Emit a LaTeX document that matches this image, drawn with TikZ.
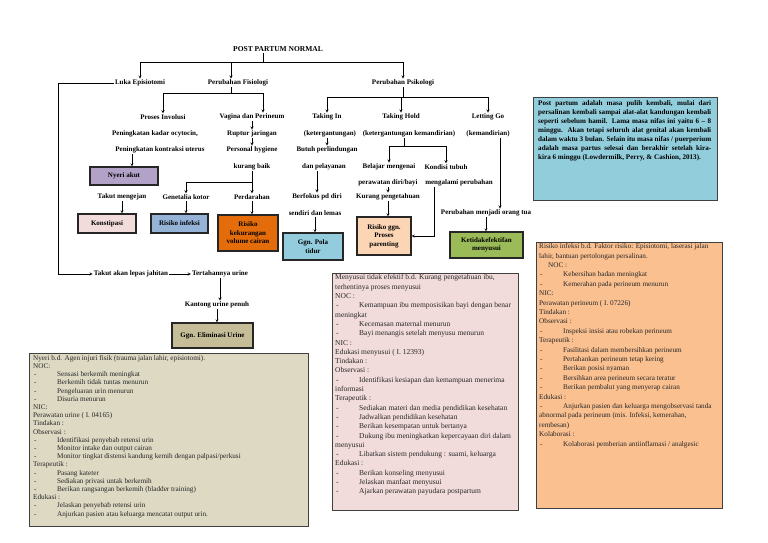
\documentclass[tikz,border=0pt]{standalone}
\usepackage{fontspec}
\setmainfont{Liberation Serif}
\definecolor{purplefill}{HTML}{B3A2C7}
\definecolor{pinkfill}{HTML}{F2DCDB}
\definecolor{bluefill}{HTML}{95B3D7}
\definecolor{orangefill}{HTML}{E46C0A}
\definecolor{cyanfill}{HTML}{93CDDD}
\definecolor{peachfill}{HTML}{FCD5B5}
\definecolor{greenfill}{HTML}{9BBB59}
\definecolor{tanfill}{HTML}{C4BD97}
\definecolor{infofill}{HTML}{92CDDC}
\definecolor{nyerifill}{HTML}{DDD9C3}
\definecolor{peachnote}{HTML}{FAC090}
\newcommand{\dashitem}[1]{\makebox[24pt][l]{\hspace*{1pt}-}#1}
\begin{document}
\begin{tikzpicture}[>=stealth, x=1pt, y=-1pt,
    lbl/.style={inner sep=1pt, font=\fontsize{7}{8}\selectfont\bfseries},
    diagbox/.style={draw=black!85, line width=1.1pt, align=center, inner sep=1pt, font=\fontsize{7}{8.5}\selectfont\bfseries},
    notebox/.style={draw=black!75, line width=1pt, anchor=north west},
    notetext/.style={anchor=north west, align=left, inner sep=0pt, text=black!85}]

    \useasboundingbox (0,0) rectangle (768,543);

        % Define the title and the three main branches
        \node[lbl, font=\fontsize{7.5}{9}\selectfont\bfseries] (post) at (278,49) {POST PARTUM NORMAL};
        \node[lbl] (luka) at (140,83) {Luka Episiotomi};
        \node[lbl] (fisio) at (238,83) {Perubahan Fisiologi};
        \node[lbl] (psiko) at (403,83) {Perubahan Psikologi};

        % Define nodes below Perubahan Fisiologi (left)
        \node[lbl] (invol) at (163,117) {Proses Involusi};
        \node[lbl] (ocy) at (155,134) {Peningkatan kadar ocytocin,};
        \node[lbl] (kontraksi) at (160,150) {Peningkatan kontraksi uterus};
        \node[diagbox, fill=purplefill, minimum width=68pt, minimum height=18pt] (nyeri) at (124,176) {Nyeri akut};
        \node[lbl] (takutm) at (122,197) {Takut mengejan};
        \node[diagbox, fill=pinkfill, minimum width=58pt, minimum height=19pt] (konst) at (107,223.5) {Konstipasi};
        \node[lbl] (genetalia) at (186,197) {Genetalia kotor};
        \node[diagbox, fill=bluefill, minimum width=57pt, minimum height=19pt] (infeksi) at (179.5,223.5) {Risiko infeksi};

        \node[lbl] (vagina) at (252,117) {Vagina dan Perineum};
        \node[lbl] (ruptur) at (252,134) {Ruptur jaringan};
        \node[lbl] (hygiene) at (252,150) {Personal hygiene};
        \node[lbl] (kurangbaik) at (252,167) {kurang baik};
        \node[lbl] (perdarahan) at (252,197) {Perdarahan};
        \node[diagbox, fill=orangefill, minimum width=60pt, minimum height=36pt] (cairan) at (248,233) {Risiko\\kekurangan\\volume cairan};

        % Define nodes below Perubahan Psikologi (right)
        \node[lbl] (takingin) at (327,117) {Taking In};
        \node[lbl] (keterg) at (330,134) {(ketergantungan)};
        \node[lbl] (butuh) at (327,150) {Butuh perlindungan};
        \node[lbl] (pelayanan) at (324,167) {dan pelayanan};
        \node[lbl] (berfokus) at (317,197) {Berfokus pd diri};
        \node[lbl] (sendiri) at (315,213) {sendiri dan lemas};
        \node[diagbox, fill=cyanfill, minimum width=60pt, minimum height=27pt] (pola) at (313,246.5) {Ggn. Pola\\tidur};

        \node[lbl] (takinghold) at (401,117) {Taking Hold};
        \node[lbl] (ketergkem) at (409,134) {(ketergantungan kemandirian)};
        \node[lbl] (belajar) at (389,167) {Belajar mengenai};
        \node[lbl] (perawatan) at (388,183) {perawatan diri/bayi};
        \node[lbl] (kurangpeng) at (388,197) {Kurang pengetahuan};
        \node[diagbox, fill=peachfill, minimum width=54pt, minimum height=38pt] (parenting) at (384,236) {Risiko ggn.\\Proses\\parenting};
        \node[lbl] (kondisi) at (446,167) {Kondisi tubuh};
        \node[lbl] (mengalami) at (459,183) {mengalami perubahan};

        \node[lbl] (letting) at (488,117) {Letting Go};
        \node[lbl] (kemandirian) at (488,134) {(kemandirian)};
        \node[lbl] (orangtua) at (486,213) {Perubahan menjadi orang tua};
        \node[diagbox, fill=greenfill, minimum width=73pt, minimum height=26pt] (menyusui) at (486.5,245) {Ketidakefektifan\\menyusui};

        % Define the chain from Luka Episiotomi (bottom)
        \node[lbl] (takutlepas) at (131,274) {Takut akan lepas jahitan};
        \node[lbl] (tertahan) at (220,274) {Tertahannya urine};
        \node[lbl] (kantong) at (217,305) {Kantong urine penuh};
        \node[diagbox, fill=tanfill, minimum width=81pt, minimum height=25pt] (eliminasi) at (212.5,335.5) {Ggn. Eliminasi Urine};

        % Junction points of the connectors
        \coordinate (topbar) at (263,62);
        \coordinate (fisiobar) at (231,93);
        \coordinate (hygbar) at (252,182);
        \coordinate (psikobar) at (403,97);
        \coordinate (holdbar) at (404,146);
        \coordinate (lukabend) at (58,83);

        % Draw arrows from the title to the main branches
        \draw (post.south -| topbar) -- (topbar);
        \draw[->] (topbar) -| (luka);
        \draw[->] (topbar) -| ([xshift=-7pt]fisio.north);
        \draw[->] (topbar) -| (psiko);

        % Draw arrows of Perubahan Fisiologi
        \draw ([xshift=-7pt]fisio.south) -- (fisiobar);
        \draw[->] (fisiobar) -| (invol);
        \draw[->] (fisiobar) -| ([xshift=11pt]vagina.north);
        \draw[->] ([xshift=8pt]nyeri.north |- kontraksi.south) -- ([xshift=8pt]nyeri.north);
        \draw[->] (takutm) -- (takutm |- konst.north);
        \draw[->] (vagina) -- (ruptur);
        \draw[->] (ruptur) -- (hygiene);
        \draw (kurangbaik) -- (hygbar);
        \draw[->] (hygbar) -| (genetalia);
        \draw[->] (hygbar) -- (perdarahan);
        \draw[->] (genetalia) -- (genetalia |- infeksi.north);
        \draw[->] (perdarahan) -- (perdarahan |- cairan.north);

        % Draw arrows of Perubahan Psikologi
        \draw (psiko) -- (psikobar);
        \draw[->] (psikobar) -| (takingin);
        \draw[->] (psikobar) -| (letting);
        \draw[->] (psikobar -| takinghold) -- (takinghold);
        \draw[->] (keterg.south -| butuh) -- (butuh);
        \draw[->] (berfokus |- pelayanan.south) -- (berfokus);
        \draw[->] (sendiri) -- (sendiri |- pola.north);
        \draw (ketergkem.south -| holdbar) -- (holdbar);
        \draw[->] (holdbar) -| (belajar);
        \draw[->] (holdbar) -| (kondisi);
        \draw[->] (perawatan) -- (kurangpeng);
        \draw[->] (kurangpeng) -- (kurangpeng |- parenting.north);
        \draw[->] ([xshift=-25pt]mengalami.south) |- (parenting);
        \draw[->] ([xshift=12pt]kemandirian.south) -- ([xshift=12pt]kemandirian.south |- orangtua.north);
        \draw[->] (orangtua) -- (orangtua |- menyusui.north);

        % Draw arrows of the Luka Episiotomi chain
        \draw[->] (luka) -- (lukabend) |- (takutlepas);
        \draw[->] (takutlepas) -- (tertahan);
        \draw[->] (tertahan) -- (tertahan |- kantong.north);
        \draw[->] (kantong) -- (kantong |- eliminasi.north);

        % Define the note boxes
        \node[notebox, fill=infofill, minimum width=184pt, minimum height=103pt] (infobox) at (533,97) {};
        \node[notetext, text width=173pt, align=justify, font=\fontsize{7.1}{9}\selectfont\bfseries, text=black] (infotext) at ([shift={(5pt,-3pt)}]infobox.north west)
            {\hyphenpenalty=10000\relax
            Post partum adalah masa pulih kembali, mulai dari\linebreak
            persalinan kembali sampai alat-alat kandungan kembali\linebreak
            seperti sebelum hamil. Lama masa nifas ini yaitu 6 -- 8\linebreak
            minggu. Akan tetapi seluruh alat genital akan kembali\linebreak
            dalam waktu 3 bulan. Selain itu masa nifas / puerperium\linebreak
            adalah masa partus selesai dan berakhir setelah kira-\linebreak
            kira 6 minggu (Lowdermilk, Perry, \& Cashion, 2013).};

        \node[notebox, fill=nyerifill, minimum width=279pt, minimum height=173pt] (nyeribox) at (29,353) {};
        \node[notetext, font=\fontsize{7.2}{8.2}\selectfont] (nyeritext) at ([shift={(4pt,-2pt)}]nyeribox.north west)
            {Nyeri b.d. Agen injuri fisik (trauma jalan lahir, episiotomi).\\
            NOC:\\
            \dashitem{Sensasi berkemih meningkat}\\
            \dashitem{Berkemih tidak tuntas menurun}\\
            \dashitem{Pengeluaran urin menurun}\\
            \dashitem{Disuria menurun}\\
            NIC:\\
            Perawatan urine ( I. 04165)\\
            Tindakan :\\
            Observasi :\\
            \dashitem{Identifikasi penyebab retensi urin}\\
            \dashitem{Monitor intake dan output cairan}\\
            \dashitem{Monitor tingkat distensi kandung kemih dengan palpasi/perkusi}\\
            Terapeutik :\\
            \dashitem{Pasang kateter}\\
            \dashitem{Sediakan privasi untak berkemih}\\
            \dashitem{Berikan rangsangan berkemih (bladder training)}\\
            Edukasi :\\
            \dashitem{Jelaskan penyebab retensi urin}\\
            \dashitem{Anjurkan pasien atau keluarga mencatat output urin.}};

        \node[notebox, fill=pinkfill, minimum width=186pt, minimum height=237pt] (menyusuibox) at (332,273) {};
        \node[notetext, font=\fontsize{7.5}{9.3}\selectfont] (menyusuitext) at ([shift={(3pt,-1.5pt)}]menyusuibox.north west)
            {Menyusui tidak efektif b.d. Kurang pengetahuan ibu,\\
            terhentinya proses menyusui\\
            NOC :\\
            \dashitem{Kemampuan ibu memposisikan bayi dengan benar}\\
            meningkat\\
            \dashitem{Kecemasan maternal menurun}\\
            \dashitem{Bayi menangis setelah menyusu menurun}\\
            NIC :\\
            Edukasi menyusui ( I. 12393)\\
            Tindakan :\\
            Observasi :\\
            \dashitem{Identifikasi kesiapan dan kemampuan menerima}\\
            informasi\\
            Terapeutik :\\
            \dashitem{Sediakan materi dan media pendidikan kesehatan}\\
            \dashitem{Jadwalkan pendidikan kesehatan}\\
            \dashitem{Berikan kesempatan untuk bertanya}\\
            \dashitem{Dukung ibu meningkatkan kepercayaan diri dalam}\\
            menyusui\\
            \dashitem{Libatkan sistem pendukung : suami, keluarga}\\
            Edukasi :\\
            \dashitem{Berikan konseling menyusui}\\
            \dashitem{Jelaskan manfaat menyusui}\\
            \dashitem{Ajarkan perawatan payudara postpartum}};

        \node[notebox, fill=peachnote, minimum width=186pt, minimum height=266pt] (infeksibox) at (536,242) {};
        \node[notetext, font=\fontsize{7.2}{9.4}\selectfont] (infeksitext) at ([shift={(3pt,-1.5pt)}]infeksibox.north west)
            {Risiko infeksi b.d. Faktor risiko: Episiotomi, laserasi jalan\\
            lahir, bantuan pertolongan persalinan.\\
            \hspace*{9pt}NOC :\\
            \dashitem{Kebersihan badan meningkat}\\
            \dashitem{Kemerahan pada perineum menurun}\\
            NIC:\\
            Perawatan perineum ( I. 07226)\\
            Tindakan :\\
            Observasi :\\
            \dashitem{Inspeksi insisi atau robekan perineum}\\
            Terapeutik :\\
            \dashitem{Fasilitasi dalam membersihkan perineum}\\
            \dashitem{Pertahankan perineum tetap kering}\\
            \dashitem{Berikan posisi nyaman}\\
            \dashitem{Bersihkan area perineum secara teratur}\\
            \dashitem{Berikan pembalut yang menyerap cairan}\\
            Edukasi :\\
            \dashitem{Anjurkan pasien dan keluarga mengobservasi tanda}\\
            abnormal pada perineum (mis. Infeksi, kemerahan,\\
            rembesan)\\
            Kolaborasi :\\
            \dashitem{Kolaborasi pemberian antiinflamasi / analgesic}};

    \end{tikzpicture}
\end{document}
